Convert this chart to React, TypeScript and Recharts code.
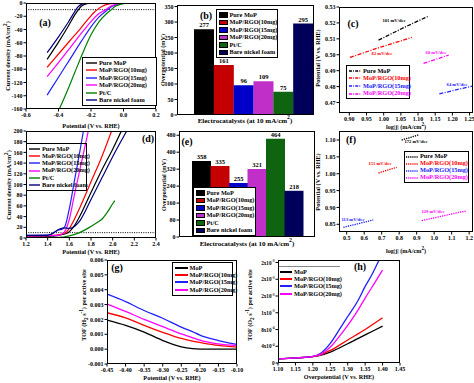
import React from "react";
import { LineChart, Line, BarChart, Bar, Cell, XAxis, YAxis, ReferenceLine, LabelList } from "recharts";

const W = 474;
const H = 383;
const YW = 20;
const XH = 12;
const FONT = '"Liberation Serif", "DejaVu Serif", serif';

const RED = "#ff0000";
const BLUE = "#2020ff";
const MAGENTA = "#ff00ff";
const GREEN = "#008000";
const NAVY = "#000080";
const LINE_COLORS = ["#000000", RED, BLUE, MAGENTA, GREEN, NAVY];
const BAR_COLORS = ["#000000", "#c40000", "#0000c8", "#c030c8", "#0f640f", "#00005a"];

const catalysts = ["Pure MoP", "MoP/RGO(10mg)", "MoP/RGO(15mg)", "MoP/RGO(20mg)", "Pt/C", "Bare nickel foam"];
const tafelSeries = ["Pure MoP", "MoP/RGO(10mg)", "MoP/RGO(15mg)", "MoP/RGO(20mg)"];
const tofSeries = ["MoP", "MoP/RGO(10mg)", "MoP/RGO(15mg)", "MoP/RGO(20mg)"];

// (a) HER polarization, [potential V, current mA/cm2]
const aPureMoP = [[-0.47, -85], [-0.4, -59], [-0.34, -35], [-0.3, -18], [-0.277, -10], [-0.26, -5], [-0.24, -2], [-0.21, -0.5], [0.2, 0]];
const aRgo10 = [[-0.47, -97], [-0.4, -77], [-0.33, -57], [-0.26, -37], [-0.21, -22], [-0.18, -14], [-0.161, -10], [-0.13, -5], [-0.1, -2], [-0.06, -0.6], [0.2, 0]];
const aRgo15 = [[-0.47, -139], [-0.4, -112], [-0.33, -85], [-0.26, -58], [-0.2, -36], [-0.15, -21], [-0.096, -10], [-0.07, -5], [-0.04, -2], [-0.01, -0.6], [0.2, 0]];
const aRgo20 = [[-0.47, -111], [-0.4, -90], [-0.33, -68], [-0.26, -46], [-0.2, -28], [-0.15, -16], [-0.109, -10], [-0.08, -5], [-0.05, -2], [-0.02, -0.6], [0.2, 0]];
const aPtC = [[-0.395, -160], [-0.35, -135], [-0.3, -105], [-0.25, -75], [-0.2, -48], [-0.15, -28], [-0.1, -15], [-0.075, -10], [-0.05, -5], [-0.02, -2], [0.02, -0.5], [0.2, 0]];
const aBareNickel = [[-0.47, -75], [-0.4, -51], [-0.34, -29], [-0.3, -13], [-0.28, -6], [-0.26, -2], [-0.23, -0.5], [0.2, 0]];
const aXTicks = [-0.6, -0.4, -0.2, 0, 0.2];
const aYTicks = [0, -20, -40, -60, -80, -100, -120, -140, -160];

// (b) / (e) overpotential at 10 mA/cm2
const herOverpotential = [277, 161, 96, 109, 75, 295];
const oerOverpotential = [358, 335, 255, 321, 464, 218];
const bYTicks = [0, 50, 100, 150, 200, 250, 300, 350];
const eYTicks = [0, 80, 160, 240, 320, 400, 480];

// (c) HER Tafel, [log j, potential]
const cPureMoP = [[0.985, 0.5092], [1.06, 0.5172], [1.13, 0.5242]];
const cRgo10 = [[0.902, 0.4984], [0.99, 0.5047], [1.082, 0.5109]];
const cRgo15 = [[1.162, 0.4754], [1.21, 0.4779], [1.26, 0.4804]];
const cRgo20 = [[1.116, 0.4946], [1.15, 0.497], [1.189, 0.4998]];
const cSlopes = ["101 mV/dec", "82 mV/dec", "64 mV/dec", "60 mV/dec"];
const cXTicks = [0.9, 0.95, 1.0, 1.05, 1.1, 1.15, 1.2, 1.25];
const cYTicks = [0.47, 0.48, 0.49, 0.5, 0.51, 0.52, 0.53];

// (d) OER polarization, [potential V, current mA/cm2]
const dPureMoP = [[1.2, 3], [1.4, 3], [1.5, 5], [1.588, 10], [1.65, 24], [1.7, 42], [1.8, 85], [1.9, 127], [2.0, 166], [2.08, 200]];
const dRgo10 = [[1.2, 4], [1.45, 5], [1.52, 7], [1.565, 10], [1.6, 18], [1.7, 58], [1.8, 105], [1.9, 152], [1.99, 200]];
const dRgo15 = [[1.2, 5], [1.42, 6], [1.47, 12], [1.5, 15], [1.53, 16], [1.56, 22], [1.6, 55], [1.65, 110], [1.7, 165], [1.73, 200]];
const dRgo20 = [[1.2, 4], [1.5, 5], [1.55, 10], [1.6, 35], [1.65, 84], [1.7, 130], [1.775, 200]];
const dPtC = [[1.2, 0.5], [1.5, 1], [1.6, 4], [1.694, 10], [1.77, 18], [1.85, 28], [1.9, 35], [1.95, 48], [2.0, 64], [2.02, 70]];
const dBareNickel = [[1.2, 5], [1.4, 5], [1.45, 9], [1.5, 16], [1.55, 19], [1.6, 18], [1.65, 22], [1.7, 33], [1.8, 72], [1.9, 112], [2.0, 152], [2.13, 200]];
const dXTicks = [1.2, 1.4, 1.6, 1.8, 2.0, 2.2, 2.4];
const dYTicks = [0, 20, 40, 60, 80, 100, 120, 140, 160, 180, 200];

// (f) OER Tafel, [log j, potential]
const fPureMoP = [[0.814, 1.1], [0.86, 1.107], [0.909, 1.115]];
const fRgo10 = [[0.681, 1.002], [0.73, 1.01], [0.786, 1.019]];
const fRgo15 = [[0.481, 0.841], [0.56, 0.851], [0.652, 0.863]];
const fRgo20 = [[0.929, 0.861], [1.05, 0.875], [1.186, 0.89]];
const fSlopes = ["172 mV/dec", "151 mV/dec", "113 mV/dec", "129 mV/dec"];
const fXTicks = [0.5, 0.6, 0.7, 0.8, 0.9, 1.0, 1.1, 1.2];
const fYTicks = [0.85, 0.9, 0.95, 1.0, 1.05, 1.1];

// (g) TOF H2
const gPotential = [-0.45, -0.4, -0.35, -0.3, -0.25, -0.22, -0.2, -0.15, -0.1];
const gMoP = [0.00195, 0.0016, 0.00115, 0.00058, 0.00015, 0.00003, 0, 0, 0];
const gRgo10 = [0.00245, 0.0021, 0.0016, 0.00113, 0.00072, 0.00054, 0.00045, 0.00025, 0.00014];
const gRgo15 = [0.0037, 0.0032, 0.0026, 0.00208, 0.00148, 0.00118, 0.00095, 0.00058, 0.00032];
const gRgo20 = [0.00304, 0.00254, 0.002, 0.00151, 0.00103, 0.00078, 0.0006, 0.00035, 0.00023];
const gXTicks = [-0.45, -0.4, -0.35, -0.3, -0.25, -0.2, -0.15, -0.1];
const gYTicks = [-0.001, 0, 0.001, 0.002, 0.003, 0.004, 0.005, 0.006];

// (h) TOF O2, [overpotential V, TOF]
const hMoP = [[1.1, 0.0001], [1.15, 0.00012], [1.2, 0.00015], [1.22, 0.00018], [1.25, 0.00026], [1.3, 0.00046], [1.35, 0.00067], [1.4, 0.00088]];
const hRgo10 = [[1.1, 0.0001], [1.15, 0.00012], [1.2, 0.00015], [1.22, 0.00019], [1.25, 0.0003], [1.3, 0.00055], [1.35, 0.0008], [1.4, 0.00108]];
const hRgo15 = [[1.1, 0.0001], [1.15, 0.00012], [1.2, 0.00016], [1.22, 0.00022], [1.25, 0.00047], [1.28, 0.00085], [1.3, 0.00111], [1.33, 0.0015], [1.35, 0.00183], [1.37, 0.00212], [1.39, 0.00246]];
const hRgo20 = [[1.1, 0.0001], [1.15, 0.00012], [1.2, 0.00016], [1.22, 0.0002], [1.25, 0.00038], [1.28, 0.00068], [1.3, 0.0009], [1.33, 0.00127], [1.35, 0.00155], [1.38, 0.00195], [1.4, 0.00222]];
const hXTicks = [1.1, 1.15, 1.2, 1.25, 1.3, 1.35, 1.4, 1.45];
const hYTicks = [0, 0.0004, 0.0008, 0.0012, 0.0016, 0.002, 0.0024];
const hYLabels = [["0", ""], ["4x10", "-4"], ["8x10", "-4"], ["1x10", "-3"], ["2x10", "-3"], ["2x10", "-3"], ["2x10", "-3"]];

// plot boxes in page pixels
const PA = { x0: 26, y0: 3, x1: 156, y1: 109 };
const PB = { x0: 177, y0: 5, x1: 314, y1: 115 };
const PC = { x0: 339, y0: 7, x1: 473, y1: 113 };
const PD = { x0: 26, y0: 131, x1: 156, y1: 238 };
const PE = { x0: 179, y0: 131, x1: 315, y1: 237 };
const PF = { x0: 339, y0: 131, x1: 473, y1: 232 };
const PG = { x0: 107, y0: 260, x1: 237, y1: 364 };
const PH = { x0: 278, y0: 260, x1: 400, y1: 363 };

type Box = { x0: number; y0: number; x1: number; y1: number };

const mg = (p: Box) => ({ top: p.y0, left: p.x0 - YW, right: W - p.x1, bottom: H - p.y1 - XH });
const xy = (pts: number[][]) => pts.map(([x, y]) => ({ x, y }));

const tickStyle = { fontSize: 6, fontFamily: FONT, fontWeight: 700, fill: "#000" };
const axisCommon = {
  tick: tickStyle,
  tickSize: 2.5,
  tickMargin: 1,
  axisLine: false,
  interval: 0 as const,
  allowDataOverflow: true,
  tickLine: { stroke: "#000" },
};

const layer: React.CSSProperties = { position: "absolute", left: 0, top: 0 };

function Frame({ p }: { p: Box }) {
  return (
    <div
      style={{
        position: "absolute",
        left: p.x0,
        top: p.y0,
        width: p.x1 - p.x0,
        height: p.y1 - p.y0,
        border: "1px solid #000",
        boxSizing: "border-box",
      }}
    />
  );
}

function Txt({ x, y, children, size = 6.2, color = "#000", rotate = false }: any) {
  return (
    <div
      style={{
        position: "absolute",
        left: x,
        top: y,
        transform: `translate(-50%, -50%)${rotate ? " rotate(-90deg)" : ""}`,
        fontSize: size,
        color,
        whiteSpace: "nowrap",
        fontFamily: FONT,
        fontWeight: 700,
        lineHeight: 1,
      }}
    >
      {children}
    </div>
  );
}

function Swatch({ kind, color, w }: { kind: string; color: string; w: number }) {
  if (kind === "square") {
    return (
      <div style={{ width: w, height: 5.5, background: color, border: "0.8px solid #000", boxSizing: "border-box", marginRight: 2, flex: "none" }} />
    );
  }
  const dash = kind === "dashdot" ? "3 1.2 0.8 1.2" : kind === "dot" ? "1.2 0.9" : undefined;
  return (
    <svg width={w} height={4} style={{ marginRight: 2, flex: "none" }}>
      <line x1={0} x2={w} y1={2} y2={2} stroke={color} strokeWidth={kind === "thick" ? 2 : 1.4} strokeDasharray={dash} />
    </svg>
  );
}

function Legend({ left, top, width, rowH, labels, colors, kind, sw, ml, colored = false, bg = "#fff", rule = false }: any) {
  return (
    <div
      style={{
        position: "absolute",
        left,
        top,
        width,
        background: bg,
        border: rule ? "none" : "0.8px solid #000",
        borderTop: rule ? "1px solid #888" : "0.8px solid #000",
        boxSizing: "border-box",
        padding: "1px 0",
        fontFamily: FONT,
        fontWeight: 700,
        fontSize: 6.3,
        lineHeight: 1,
      }}
    >
      {labels.map((l: string, i: number) => (
        <div key={l} style={{ display: "flex", alignItems: "center", height: rowH, paddingLeft: ml, whiteSpace: "nowrap", color: colored ? colors[i] : "#000" }}>
          <Swatch kind={kind} color={colors[i]} w={sw} />
          {l}
        </div>
      ))}
    </div>
  );
}

function HTick(props: any) {
  const { x, y, payload } = props;
  const i = hYTicks.indexOf(payload.value);
  const [m, e] = hYLabels[i] || ["", ""];
  return (
    <text x={x} y={y + 2} textAnchor="end" fontSize={5.2} fontFamily={FONT} fontWeight={700} fill="#000">
      {m}
      {e && (
        <tspan dy={-2.5} fontSize={3.6}>
          {e}
        </tspan>
      )}
    </text>
  );
}

function LinePanel({ p, xDomain, yDomain, xTicks, yTicks, xFmt, yFmt, series, kind, width = 1.2, refY, yTick }: any) {
  const dash = kind === "dashdot" ? "4 1.5 1 1.5" : kind === "dot" ? "1.3 1" : undefined;
  return (
    <div style={layer}>
      <LineChart width={W} height={H} margin={mg(p)}>
        <XAxis type="number" dataKey="x" domain={xDomain} ticks={xTicks} tickFormatter={xFmt} height={XH} {...axisCommon} />
        <YAxis
          type="number"
          domain={yDomain}
          ticks={yTicks}
          tickFormatter={yFmt}
          width={YW}
          {...axisCommon}
          tick={yTick || tickStyle}
        />
        {refY !== undefined && <ReferenceLine y={refY} stroke="#000" strokeWidth={1} strokeDasharray="1 1.3" />}
        {series.map((s: any, i: number) => (
          <Line
            key={i}
            data={xy(s.pts)}
            dataKey="y"
            type={kind ? "linear" : "monotone"}
            stroke={s.color}
            strokeWidth={width}
            strokeDasharray={dash}
            dot={false}
            isAnimationActive={false}
          />
        ))}
      </LineChart>
    </div>
  );
}

function BarPanel({ p, values, yDomain, yTicks, padL, padR }: any) {
  const data = catalysts.map((name, i) => ({ name, value: values[i] }));
  return (
    <div style={layer}>
      <BarChart width={W} height={H} margin={mg(p)} data={data} barCategoryGap={0}>
        <XAxis dataKey="name" tick={false} tickLine={false} axisLine={false} height={XH} padding={{ left: padL, right: padR }} />
        <YAxis type="number" domain={yDomain} ticks={yTicks} width={YW} {...axisCommon} />
        <Bar dataKey="value" isAnimationActive={false}>
          {data.map((d, i) => (
            <Cell key={d.name} fill={BAR_COLORS[i]} />
          ))}
          <LabelList dataKey="value" position="top" offset={2} style={{ fontSize: 6.5, fontFamily: FONT, fontWeight: 700, fill: "#000" }} />
        </Bar>
      </BarChart>
    </div>
  );
}

const f1 = (v: number) => v.toFixed(1);
const f2 = (v: number) => v.toFixed(2);
const f3 = (v: number) => v.toFixed(3);
const f0 = (v: number) => String(v);

export default function App() {
  const c4 = LINE_COLORS.slice(0, 4);
  return (
    <div style={{ position: "absolute", left: 0, top: 0, width: W, height: H, background: "#fff", overflow: "hidden", fontFamily: FONT }}>
      <LinePanel
        p={PA}
        xDomain={[-0.6, 0.2]}
        yDomain={[-160, 0]}
        xTicks={aXTicks}
        yTicks={aYTicks}
        xFmt={f1}
        yFmt={f0}
        refY={-10}
        series={[aPureMoP, aRgo10, aRgo15, aRgo20, aPtC, aBareNickel].map((pts, i) => ({ pts, color: LINE_COLORS[i] }))}
      />
      <BarPanel p={PB} values={herOverpotential} yDomain={[0, 355]} yTicks={bYTicks} padL={17} padR={1} />
      <LinePanel
        p={PC}
        xDomain={[0.87, 1.26]}
        yDomain={[0.4634, 0.53]}
        xTicks={cXTicks}
        yTicks={cYTicks}
        xFmt={f2}
        yFmt={f2}
        kind="dashdot"
        width={1.3}
        series={[cPureMoP, cRgo10, cRgo15, cRgo20].map((pts, i) => ({ pts, color: c4[i] }))}
      />
      <LinePanel
        p={PD}
        xDomain={[1.2, 2.4]}
        yDomain={[0, 200]}
        xTicks={dXTicks}
        yTicks={dYTicks}
        xFmt={f1}
        yFmt={f0}
        refY={10}
        series={[dPureMoP, dRgo10, dRgo15, dRgo20, dPtC, dBareNickel].map((pts, i) => ({ pts, color: LINE_COLORS[i] }))}
      />
      <BarPanel p={PE} values={oerOverpotential} yDomain={[0, 500]} yTicks={eYTicks} padL={13} padR={12} />
      <LinePanel
        p={PF}
        xDomain={[0.456, 1.222]}
        yDomain={[0.8272, 1.1267]}
        xTicks={fXTicks}
        yTicks={fYTicks}
        xFmt={f1}
        yFmt={f2}
        kind="dot"
        width={1.3}
        series={[fPureMoP, fRgo10, fRgo15, fRgo20].map((pts, i) => ({ pts, color: c4[i] }))}
      />
      <LinePanel
        p={PG}
        xDomain={[-0.45, -0.1]}
        yDomain={[-0.001, 0.006]}
        xTicks={gXTicks}
        yTicks={gYTicks}
        xFmt={f2}
        yFmt={f3}
        width={1.3}
        series={[gMoP, gRgo10, gRgo15, gRgo20].map((vals, i) => ({ pts: gPotential.map((x, j) => [x, vals[j]]), color: c4[i] }))}
      />
      <LinePanel
        p={PH}
        xDomain={[1.1, 1.45]}
        yDomain={[0, 0.00246]}
        xTicks={hXTicks}
        yTicks={hYTicks}
        xFmt={f2}
        yTick={<HTick />}
        width={1.3}
        series={[hMoP, hRgo10, hRgo15, hRgo20].map((pts, i) => ({ pts, color: c4[i] }))}
      />

      {[PA, PB, PC, PD, PE, PF, PG, PH].map((p, i) => (
        <Frame key={i} p={p} />
      ))}

      <Legend left={82} top={57} width={75} rowH={7.5} labels={catalysts} colors={LINE_COLORS} kind="line" sw={11} ml={3} />
      <Legend left={216} top={9} width={62} rowH={7.5} labels={catalysts} colors={BAR_COLORS} kind="square" sw={9} ml={1.5} />
      <Legend left={346} top={65} width={64} rowH={7.6} labels={tafelSeries} colors={c4} kind="dashdot" sw={12} ml={2} colored />
      <Legend left={26} top={143} width={61} rowH={7.3} labels={catalysts} colors={LINE_COLORS} kind="line" sw={11} ml={2} bg="transparent" />
      <Legend left={193} top={187} width={63} rowH={7.5} labels={catalysts} colors={BAR_COLORS} kind="square" sw={9} ml={1.5} />
      <Legend left={404} top={151} width={65} rowH={7.0} labels={tafelSeries} colors={c4} kind="dot" sw={12} ml={1} colored />
      <Legend left={172} top={262} width={61} rowH={7.4} labels={tofSeries} colors={c4} kind="thick" sw={13} ml={1.5} />
      <Legend left={279} top={266} width={61} rowH={7.4} labels={tofSeries} colors={c4} kind="thick" sw={12} ml={1} rule bg="transparent" />

      {/* slope annotations */}
      <Txt x={394} y={21} size={4.6} color="#000">{cSlopes[0]}</Txt>
      <Txt x={382} y={54} size={4.6} color={RED}>{cSlopes[1]}</Txt>
      <Txt x={457} y={85} size={4.6} color={BLUE}>{cSlopes[2]}</Txt>
      <Txt x={436} y={53} size={4.6} color={MAGENTA}>{cSlopes[3]}</Txt>
      <Txt x={416} y={142} size={4.6} color="#000">{fSlopes[0]}</Txt>
      <Txt x={380} y={164} size={4.6} color={RED}>{fSlopes[1]}</Txt>
      <Txt x={353} y={220} size={4.6} color={BLUE}>{fSlopes[2]}</Txt>
      <Txt x={433} y={212} size={4.6} color={MAGENTA}>{fSlopes[3]}</Txt>

      {/* panel letters */}
      <Txt x={45} y={23} size={10}>(a)</Txt>
      <Txt x={206} y={16} size={10}>(b)</Txt>
      <Txt x={353} y={24} size={10}>(c)</Txt>
      <Txt x={148} y={139} size={10}>(d)</Txt>
      <Txt x={187} y={142} size={10}>(e)</Txt>
      <Txt x={351} y={140} size={10}>(f)</Txt>
      <Txt x={117} y={268} size={10}>(g)</Txt>
      <Txt x={360} y={267} size={10}>(h)</Txt>

      {/* axis titles */}
      <Txt x={7} y={56} rotate>Current density (mA/cm<sup>2</sup>)</Txt>
      <Txt x={91} y={126}>Potential (V vs. RHE)</Txt>
      <Txt x={163} y={60} rotate>Overpotential (mV)</Txt>
      <Txt x={245} y={120} size={7}>Electrocatalysts (at 10 mA/cm<sup>2</sup>)</Txt>
      <Txt x={318} y={58} rotate>Potential (V vs. RHE)</Txt>
      <Txt x={406} y={126}>log|j| (mA/cm<sup>2</sup>)</Txt>
      <Txt x={8} y={185} rotate>Current density (mA/cm<sup>2</sup>)</Txt>
      <Txt x={91} y={252}>Potential (V vs. RHE)</Txt>
      <Txt x={164} y={185} rotate>Overpotential (mV)</Txt>
      <Txt x={247} y={243} size={7}>Electrocatalysts (at 10 mA/cm<sup>2</sup>)</Txt>
      <Txt x={318} y={182} rotate>Potential (V vs. RHE)</Txt>
      <Txt x={406} y={250}>log|j| (mA/cm<sup>2</sup>)</Txt>
      <Txt x={84} y={305} rotate>TOF (H<sub>2</sub> s<sup>-1</sup>) per active site</Txt>
      <Txt x={172} y={378}>Potential (V vs. RHE)</Txt>
      <Txt x={250} y={305} rotate>TOF (O<sub>2</sub> s<sup>-1</sup>) per active site</Txt>
      <Txt x={339} y={377}>Overpotential (V vs. RHE)</Txt>
    </div>
  );
}
